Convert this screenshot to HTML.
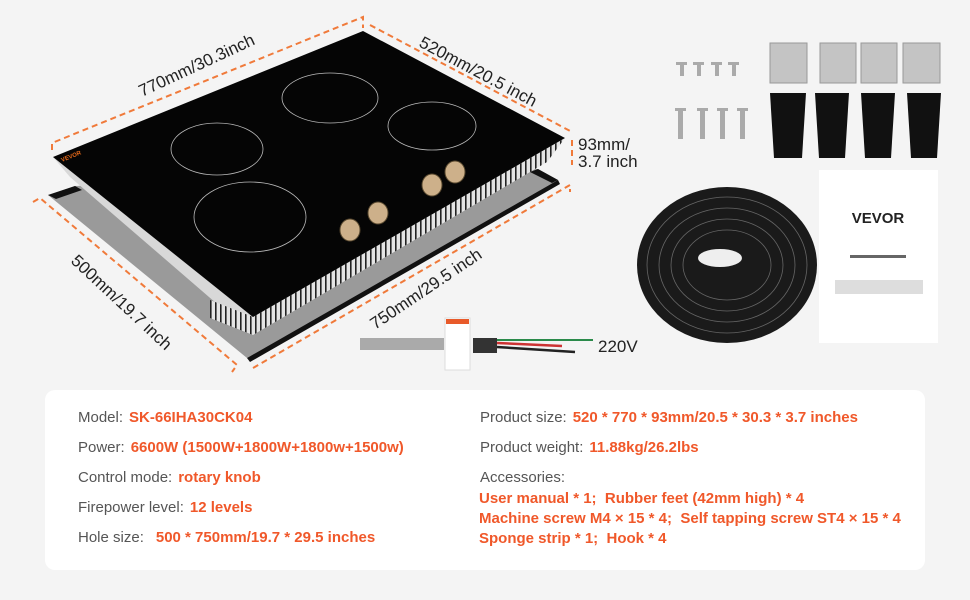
<!DOCTYPE html>
<html><head><meta charset="utf-8"><style>
body{margin:0;width:970px;height:600px;background:#f4f4f4;font-family:"Liberation Sans",sans-serif;overflow:hidden;position:relative}
.card{position:absolute;left:45px;top:390px;width:880px;height:180px;background:#fff;border-radius:10px}
.t{position:absolute;font-size:15px;color:#555;white-space:nowrap}
.t b{color:#f0582a;font-weight:bold;margin-left:6px}
.o{position:absolute;font-size:15px;color:#f0582a;font-weight:bold;white-space:nowrap}
svg{position:absolute;left:0;top:0}
</style></head><body>
<svg width="970" height="390" viewBox="0 0 970 390">
<defs>
<pattern id="st" width="5" height="10" patternUnits="userSpaceOnUse"><rect width="5" height="10" fill="#e4e4e4"/><rect width="1.6" height="10" fill="#222"/></pattern>
</defs>
<!-- base -->
<polygon points="48,195 75,186 538,169 558,180 247,358" fill="#9a9a9a"/>
<polygon points="48,195 75,186 82,190 56,199" fill="#111"/>
<polygon points="247,358 558,180 560,184 250,362" fill="#111"/>
<polygon points="538,169 558,180 552,183 530,172" fill="#111"/>
<!-- sides -->
<polygon points="253,317 565,138 547,162 253,335" fill="url(#st)"/>
<polygon points="53,157 253,317 253,335 70,177" fill="#d8d8d8"/>
<polygon points="210,300 253,317 253,335 210,318" fill="url(#st)"/>
<!-- glass -->
<polygon points="363,31 53,157 253,317 565,138" fill="#050505"/>
<text x="62" y="162" font-size="6" fill="#e86a1a" font-weight="bold" transform="rotate(-22 62 162)">VEVOR</text>
<g fill="none" stroke="#bbb" stroke-width="0.8">
<ellipse cx="217" cy="149" rx="46" ry="26"/>
<ellipse cx="330" cy="98" rx="48" ry="25"/>
<ellipse cx="432" cy="126" rx="44" ry="24"/>
<ellipse cx="250" cy="217" rx="56" ry="35"/>
</g>
<g fill="#cdb08a" stroke="#5a4a30" stroke-width="1">
<ellipse cx="350" cy="230" rx="10" ry="11"/><ellipse cx="378" cy="213" rx="10" ry="11"/>
<ellipse cx="432" cy="185" rx="10" ry="11"/><ellipse cx="455" cy="172" rx="10" ry="11"/>
</g>
<!-- dimension lines -->
<g stroke="#f07a3a" stroke-width="2" stroke-dasharray="6,4" fill="none">
<polyline points="52,150 52,143 363,17 363,28"/>
<polyline points="370,25 572,132"/>
<polyline points="572,140 572,165"/>
<polyline points="33,202 40,198 237,365 232,372"/>
<polyline points="253,368 570,185 570,192"/>
</g>
<g font-size="17" fill="#222">
<text x="142" y="97" transform="rotate(-25 142 97)">770mm/30.3inch</text>
<text x="418" y="46" transform="rotate(28 418 46)">520mm/20.5 inch</text>
<text x="578" y="150">93mm/</text><text x="578" y="167">3.7 inch</text>
<text x="70" y="262" transform="rotate(43 70 262)">500mm/19.7 inch</text>
<text x="375" y="330" transform="rotate(-34 375 330)">750mm/29.5 inch</text>
<text x="598" y="352">220V</text>
</g>
<!-- cable -->
<rect x="360" y="338" width="84" height="12" fill="#aaa"/>
<rect x="445" y="318" width="25" height="52" fill="#fff" stroke="#ddd"/>
<rect x="446" y="319" width="23" height="5" fill="#e85a2a"/>
<rect x="473" y="338" width="24" height="15" fill="#333"/>
<line x1="497" y1="340" x2="593" y2="340" stroke="#2a8a4a" stroke-width="2"/>
<line x1="497" y1="343" x2="562" y2="346" stroke="#c33" stroke-width="2.5"/>
<line x1="497" y1="347" x2="575" y2="352" stroke="#222" stroke-width="2.5"/>
<!-- screws -->
<g fill="#aaa">
<rect x="680" y="63" width="4" height="13"/><rect x="697" y="63" width="4" height="13"/><rect x="715" y="63" width="4" height="13"/><rect x="732" y="63" width="4" height="13"/>
<rect x="678" y="109" width="5" height="30"/><rect x="700" y="109" width="5" height="30"/><rect x="720" y="109" width="5" height="30"/><rect x="740" y="109" width="5" height="30"/>
<rect x="675" y="108" width="11" height="3"/><rect x="697" y="108" width="11" height="3"/><rect x="717" y="108" width="11" height="3"/><rect x="737" y="108" width="11" height="3"/>
<rect x="676" y="62" width="11" height="3"/><rect x="693" y="62" width="11" height="3"/><rect x="711" y="62" width="11" height="3"/><rect x="728" y="62" width="11" height="3"/>
</g>
<g fill="#c4c4c4" stroke="#999">
<rect x="770" y="43" width="37" height="40"/><rect x="820" y="43" width="36" height="40"/><rect x="861" y="43" width="36" height="40"/><rect x="903" y="43" width="37" height="40"/>
</g>
<g fill="#111">
<polygon points="770,93 806,93 802,158 774,158"/><polygon points="815,93 849,93 845,158 819,158"/><polygon points="861,93 895,93 891,158 865,158"/><polygon points="907,93 941,93 937,158 911,158"/>
</g>
<!-- coil -->
<ellipse cx="727" cy="265" rx="90" ry="78" fill="#1a1a1a"/>
<g fill="none" stroke="#666" stroke-width="0.8">
<ellipse cx="727" cy="265" rx="80" ry="68"/><ellipse cx="727" cy="265" rx="68" ry="57"/><ellipse cx="727" cy="265" rx="56" ry="46"/><ellipse cx="727" cy="265" rx="44" ry="35"/>
</g>
<ellipse cx="720" cy="258" rx="22" ry="9" fill="#eee"/>
<!-- manual -->
<rect x="819" y="170" width="119" height="173" fill="#fff"/>
<text x="878" y="223" font-size="15" font-weight="bold" text-anchor="middle" fill="#222">VEVOR</text>
<rect x="850" y="255" width="56" height="3" fill="#666"/>
<rect x="835" y="280" width="88" height="14" fill="#ddd"/>
</svg>
<div class="card"></div>
<div class="t" style="left:78px;top:409px">Model:<b>SK-66IHA30CK04</b></div>
<div class="t" style="left:78px;top:439px">Power:<b>6600W (1500W+1800W+1800w+1500w)</b></div>
<div class="t" style="left:78px;top:469px">Control mode:<b>rotary knob</b></div>
<div class="t" style="left:78px;top:499px">Firepower level:<b>12 levels</b></div>
<div class="t" style="left:78px;top:529px">Hole size:<b style="margin-left:12px">500 * 750mm/19.7 * 29.5 inches</b></div>
<div class="t" style="left:480px;top:409px">Product size:<b>520 * 770 * 93mm/20.5 * 30.3 * 3.7 inches</b></div>
<div class="t" style="left:480px;top:439px">Product weight:<b>11.88kg/26.2lbs</b></div>
<div class="t" style="left:480px;top:469px">Accessories:</div>
<div class="o" style="left:479px;top:490px">User manual * 1;&nbsp; Rubber feet (42mm high) * 4</div>
<div class="o" style="left:479px;top:510px">Machine screw M4 × 15 * 4;&nbsp; Self tapping screw ST4 × 15 * 4</div>
<div class="o" style="left:479px;top:530px">Sponge strip * 1;&nbsp; Hook * 4</div>
</body></html>
